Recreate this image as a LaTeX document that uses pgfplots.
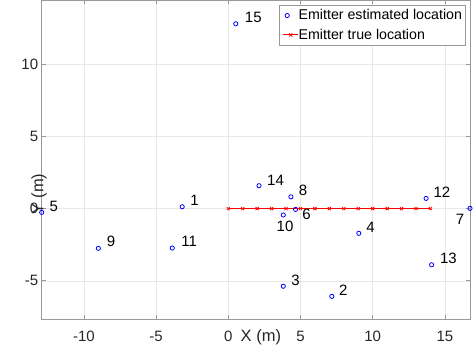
\documentclass[border=0pt]{standalone}
\usepackage{fontspec}
\setmainfont{Liberation Sans}
\usepackage{pgfplots}
\pgfplotsset{compat=1.18}
\definecolor{mblue}{rgb}{0,0,1}
\definecolor{mred}{rgb}{1,0,0}
\definecolor{tickc}{rgb}{0.15,0.15,0.15}
\begin{document}
\begin{tikzpicture}
\begin{axis}[
  scale only axis, width=428.3pt, height=319.3pt,
  xmin=-12.92, xmax=16.74, ymin=-7.67, ymax=14.46,
  xtick={-10,-5,0,5,10,15}, ytick={-5,0,5,10},
  clip=false,
  grid=major, major grid style={draw=black!9, line width=0.5pt},
  axis line style={draw=black!40, line width=0.6pt},
  every tick/.style={draw=black!40, line width=0.6pt},
  tick align=inside, major tick length=4.5pt,
  ticklabel style={font=\fontsize{15}{18}\selectfont, text=tickc},
  xticklabel style={anchor=base, yshift=-22.4pt},
  /pgf/number format/assume math mode=true,
  xlabel={X (m)}, ylabel={Y (m)},
  label style={font=\fontsize{16.5}{20}\selectfont, text=tickc},
  xlabel style={at={(axis description cs:0.5,0)}, anchor=base, yshift=-22.4pt, xshift=5pt},
  ylabel style={at={(axis description cs:0,0.5)}, anchor=center, rotate=0, xshift=-34.2pt, yshift=2.6pt},
  legend style={at={(rel axis cs:1,1)}, anchor=north east, xshift=-4.3pt, yshift=-5pt,
    draw=black!40, line width=0.5pt, fill=white, font=\fontsize{14.2}{17}\selectfont,
    inner xsep=3.4pt, inner ysep=4.4pt, row sep=7.6pt,
    nodes={inner xsep=0pt, inner ysep=0pt, text=black},
    /tikz/every even column/.append style={column sep=0.3pt}},
  legend cell align=left,
]
\addplot[only marks, mark=o, mark size=2.1pt, draw=mblue, line width=0.8pt,
  legend image code/.code={\draw[mark=o, mark size=2.1pt, draw=mblue, line width=0.8pt] plot coordinates {(7.9pt,0pt)};}]
coordinates {
(-3.19,0.13) (7.17,-6.08) (3.81,-5.38) (9.04,-1.71) (-12.92,-0.26)
(4.66,-0.05) (16.74,0.02) (4.34,0.82) (-9.00,-2.75) (3.81,-0.44)
(-3.88,-2.73) (13.70,0.71) (14.08,-3.89) (2.13,1.59) (0.52,12.81)
};
\addlegendentry{Emitter estimated location}
\addplot[mred, line width=0.9pt, mark=x, mark size=2.2pt, mark options={line width=0.8pt},
  legend image code/.code={\draw[mred, line width=0.9pt] (3.9pt,0pt) -- (18.9pt,0pt); \draw[mred, line width=0.8pt] plot[mark=x, mark size=2.2pt] coordinates {(11.4pt,0pt)};}]
coordinates {
(0,0) (1,0) (2,0) (3,0) (4,0) (5,0) (6,0) (7,0) (8,0) (9,0) (10,0) (11,0) (12,0) (13,0) (14,0)
};
\addlegendentry{Emitter true location}
\tikzset{lbl/.style={font=\fontsize{15}{18}\selectfont, inner sep=0pt, text=black}}
\node[lbl, anchor=west, xshift=8pt, yshift=6pt] at (axis cs:-3.19,0.13) {1};
\node[lbl, anchor=west, xshift=7pt, yshift=6.3pt] at (axis cs:7.17,-6.08) {2};
\node[lbl, anchor=west, xshift=8pt, yshift=6.3pt] at (axis cs:3.81,-5.38) {3};
\node[lbl, anchor=west, xshift=7.3pt, yshift=5.7pt] at (axis cs:9.04,-1.71) {4};
\node[lbl, anchor=west, xshift=7.8pt, yshift=5.6pt] at (axis cs:-12.92,-0.26) {5};
\node[lbl, anchor=west, xshift=6.7pt, yshift=-4.7pt] at (axis cs:4.66,-0.05) {6};
\node[lbl, anchor=east, xshift=-5.7pt, yshift=-11pt] at (axis cs:16.74,0.02) {7};
\node[lbl, anchor=west, xshift=7.7pt, yshift=6pt] at (axis cs:4.34,0.82) {8};
\node[lbl, anchor=west, xshift=8.4pt, yshift=6.6pt] at (axis cs:-9.00,-2.75) {9};
\node[lbl, anchor=center, xshift=1.8pt, yshift=-11.7pt] at (axis cs:3.81,-0.44) {10};
\node[lbl, anchor=west, xshift=9pt, yshift=6.3pt] at (axis cs:-3.88,-2.73) {11};
\node[lbl, anchor=west, xshift=7.3pt, yshift=6pt] at (axis cs:13.70,0.71) {12};
\node[lbl, anchor=west, xshift=8.3pt, yshift=6.3pt] at (axis cs:14.08,-3.89) {13};
\node[lbl, anchor=west, xshift=8pt, yshift=5.7pt] at (axis cs:2.13,1.59) {14};
\node[lbl, anchor=west, xshift=9pt, yshift=6.4pt] at (axis cs:0.52,12.81) {15};
\end{axis}
\pgfresetboundingbox
\path ([xshift=-41.7pt, yshift=-26.7pt]current axis.south west) rectangle ([xshift=4pt]current axis.north east);
\end{tikzpicture}
\end{document}
